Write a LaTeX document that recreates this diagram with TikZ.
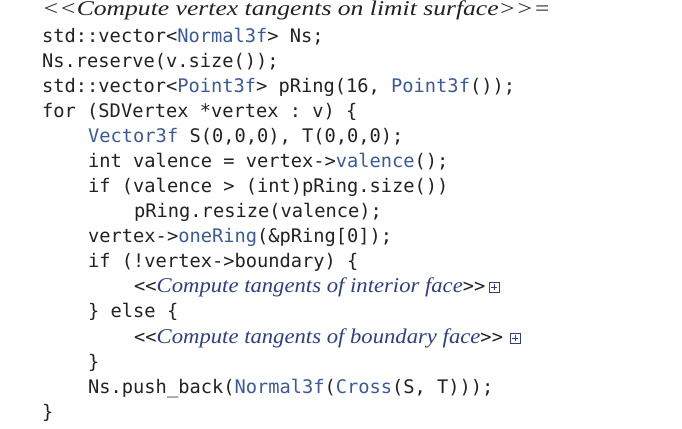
\documentclass[tikz,border=0pt]{standalone}
\usepackage{fontspec}
\setmonofont{DejaVu Sans Mono}
\setmainfont{Liberation Serif}
\newfontfamily\cmtfont[FakeStretch=1.08]{Liberation Serif}
\newfontfamily\ttlfont[FakeStretch=1.22]{Liberation Serif}
\definecolor{kw}{HTML}{3A5A9A}
\definecolor{tx}{HTML}{222222}
\definecolor{cmt}{HTML}{2E3F86}
\newcommand{\B}[1]{\textcolor{kw}{#1}}
\newcommand{\C}[1]{\textcolor{cmt}{{\cmtfont\itshape\fontsize{21}{21}\selectfont #1}}}
\begin{document}
\begin{tikzpicture}[x=1pt,y=-1pt,
  ln/.style={anchor=west,inner sep=0pt,text=tx,font=\ttfamily\fontsize{18.7}{19}\selectfont},
  plusbox/.style={draw=cmt,line width=0.8pt,minimum size=10pt,inner sep=0pt},
  plusline/.style={draw=cmt,line width=0.8pt}]
\useasboundingbox (0,0) rectangle (682,428);
\def\cw{11.5}
\node[anchor=west,inner sep=0pt,text=tx,font=\ttlfont\itshape\fontsize{21}{21}\selectfont] (t) at (42,10) {{<}{<}Compute vertex tangents on limit surface{>}{>}=};
\node[ln] (l1) at (42,37) {std::vector<\B{Normal3f}> Ns;};
\node[ln] (l2) at (42,62) {Ns.reserve(v.size());};
\node[ln] (l3) at (42,87) {std::vector<\B{Point3f}> pRing(16, \B{Point3f}());};
\node[ln] (l4) at (42,112) {for (SDVertex *vertex : v) \{};
\node[ln] (l5) at (42+4*\cw,137) {\B{Vector3f} S(0,0,0), T(0,0,0);};
\node[ln] (l6) at (42+4*\cw,162) {int valence = vertex->\B{valence}();};
\node[ln] (l7) at (42+4*\cw,187) {if (valence > (int)pRing.size())};
\node[ln] (l8) at (42+8*\cw,212) {pRing.resize(valence);};
\node[ln] (l9) at (42+4*\cw,237) {vertex->\B{oneRing}(\&pRing[0]);};
\node[ln] (l10) at (42+4*\cw,262) {if (!vertex->boundary) \{};
\node[ln] (l11) at (42+8*\cw,287) {<<\C{Compute tangents of interior face}>>};
\node[ln] (l12) at (42+4*\cw,312) {\} else \{};
\node[ln] (l13) at (42+8*\cw,338) {<<\C{Compute tangents of boundary face}>>};
\node[ln] (l14) at (42+4*\cw,363) {\}};
\node[ln] (l15) at (42+4*\cw,389) {Ns.push\_back(\B{Normal3f}(\B{Cross}(S, T)));};
\node[ln] (l16) at (42,413) {\}};
\node[plusbox] (p1) at (494,287) {};
\node[plusbox] (p2) at (515,338) {};
\foreach \p in {p1,p2}{
  \path[plusline] ([xshift=2pt]\p.west) -- ([xshift=-2pt]\p.east);
  \path[plusline] ([yshift=-2pt]\p.north) -- ([yshift=2pt]\p.south);
}
\end{tikzpicture}
\end{document}
